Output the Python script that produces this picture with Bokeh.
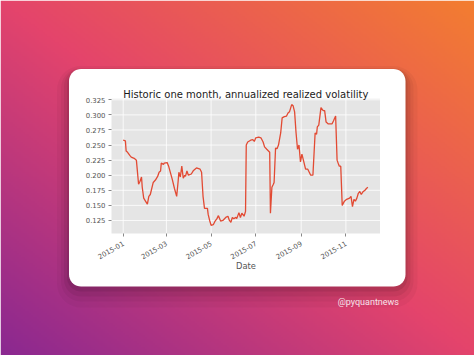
import numpy as np
import pandas as pd
from math import pi
from bokeh.plotting import figure
from bokeh.models import (DatetimeAxis, LinearAxis, FixedTicker, DatetimeTickFormatter,
                          PrintfTickFormatter, Label, Range1d)
from bokeh.embed import file_html
from bokeh.resources import INLINE

# ---------------- data ----------------
dates = [
    "2015-01-01", "2015-01-04", "2015-01-05", "2015-01-07", "2015-01-10", "2015-01-12", "2015-01-16", "2015-01-19", "2015-01-22", "2015-01-24",
    "2015-01-26", "2015-01-27", "2015-01-29", "2015-01-31", "2015-02-03", "2015-02-05", "2015-02-07", "2015-02-11", "2015-02-14", "2015-02-17",
    "2015-02-19", "2015-02-21", "2015-02-22", "2015-02-25", "2015-02-26", "2015-03-02", "2015-03-04", "2015-03-09", "2015-03-12", "2015-03-15",
    "2015-03-17", "2015-03-18", "2015-03-20", "2015-03-22", "2015-03-24", "2015-03-26", "2015-03-27", "2015-03-29", "2015-03-31", "2015-04-04",
    "2015-04-07", "2015-04-11", "2015-04-16", "2015-04-18", "2015-04-20", "2015-04-22", "2015-04-26", "2015-04-27", "2015-04-29", "2015-05-01",
    "2015-05-04", "2015-05-06", "2015-05-09", "2015-05-11", "2015-05-14", "2015-05-17", "2015-05-21", "2015-05-24", "2015-05-26", "2015-05-28",
    "2015-05-30", "2015-06-01", "2015-06-04", "2015-06-05", "2015-06-08", "2015-06-10", "2015-06-12", "2015-06-15", "2015-06-17", "2015-06-18",
    "2015-06-20", "2015-06-24", "2015-06-27", "2015-06-29", "2015-07-01", "2015-07-05", "2015-07-08", "2015-07-11", "2015-07-13", "2015-07-16",
    "2015-07-20", "2015-07-21", "2015-07-23", "2015-07-25", "2015-07-26", "2015-07-28", "2015-07-30", "2015-08-01", "2015-08-04", "2015-08-06",
    "2015-08-09", "2015-08-12", "2015-08-14", "2015-08-16", "2015-08-19", "2015-08-21", "2015-08-23", "2015-08-25", "2015-08-27", "2015-08-29",
    "2015-08-31", "2015-09-02", "2015-09-04", "2015-09-07", "2015-09-10", "2015-09-12", "2015-09-14", "2015-09-17", "2015-09-20", "2015-09-22",
    "2015-09-23", "2015-09-25", "2015-09-28", "2015-10-01", "2015-10-03", "2015-10-05", "2015-10-08", "2015-10-11", "2015-10-13", "2015-10-15",
    "2015-10-18", "2015-10-20", "2015-10-22", "2015-10-23", "2015-10-25", "2015-10-27", "2015-10-30", "2015-11-02", "2015-11-06", "2015-11-08",
    "2015-11-10", "2015-11-12", "2015-11-14", "2015-11-16", "2015-11-18", "2015-11-20", "2015-11-22", "2015-11-24", "2015-11-27", "2015-11-29",
    "2015-12-01",
]
volatility = [
    0.258, 0.257, 0.240, 0.238, 0.233, 0.230, 0.228, 0.225, 0.185, 0.190,
    0.197, 0.180, 0.162, 0.158, 0.152, 0.165, 0.168, 0.188, 0.192, 0.198,
    0.205, 0.207, 0.220, 0.218, 0.220, 0.221, 0.215, 0.193, 0.178, 0.165,
    0.190, 0.205, 0.197, 0.215, 0.195, 0.200, 0.198, 0.207, 0.200, 0.202,
    0.208, 0.212, 0.210, 0.205, 0.165, 0.145, 0.145, 0.135, 0.125, 0.117,
    0.118, 0.123, 0.128, 0.133, 0.124, 0.125, 0.130, 0.132, 0.125, 0.122,
    0.130, 0.128, 0.130, 0.128, 0.138, 0.130, 0.137, 0.132, 0.140, 0.250,
    0.255, 0.258, 0.259, 0.256, 0.262, 0.263, 0.262, 0.255, 0.247, 0.243,
    0.238, 0.137, 0.180, 0.185, 0.188, 0.245, 0.244, 0.250, 0.270, 0.295,
    0.297, 0.298, 0.303, 0.305, 0.317, 0.315, 0.305, 0.270, 0.243, 0.250,
    0.222, 0.235, 0.225, 0.210, 0.210, 0.205, 0.200, 0.200, 0.270, 0.268,
    0.280, 0.283, 0.312, 0.307, 0.307, 0.288, 0.285, 0.285, 0.285, 0.290,
    0.298, 0.225, 0.218, 0.215, 0.215, 0.150, 0.157, 0.160, 0.162, 0.165,
    0.148, 0.160, 0.157, 0.162, 0.170, 0.173, 0.168, 0.172, 0.175, 0.178,
    0.180,
]
x_tick_labels = ["2015-01", "2015-03", "2015-05", "2015-07", "2015-09", "2015-11"]
y_ticks = [0.125, 0.150, 0.175, 0.200, 0.225, 0.250, 0.275, 0.300, 0.325]
title_text = "Historic one month, annualized realized volatility"
x_label = "Date"
watermark_text = "@pyquantnews"

# ---------------- layout (pixels) ----------------
W, H = 474, 355
JAN1_PX, PX_PER_DAY = 122.7, 0.7325
Y325_PX, PX_PER_UNIT = 99.3, 603.3
DAY_MS = 86400000.0
base_ms = pd.Timestamp("2015-01-01").value / 1e6


def X(px):
    return base_ms + (px - JAN1_PX) / PX_PER_DAY * DAY_MS


def V(py):
    return 0.325 - (py - Y325_PX) / PX_PER_UNIT


PL, PR, PT, PB = 111.0, 379.5, 98.3, 233.0     # grey plotting area
CL, CR, CT, CB, CRAD = 68.5, 405.0, 68.5, 286.0, 12.0  # white card

p = figure(width=W, height=H, output_backend="svg", toolbar_location=None,
           x_axis_type=None, y_axis_type=None,
           x_range=Range1d(X(0), X(W)), y_range=Range1d(V(H), V(0)),
           min_border=0, outline_line_color=None,
           styles={"position": "absolute", "left": "0px", "top": "0px"})
p.title.text = ""

# ---- gradient background ----
gw, gh = 237, 178
u = (np.arange(gw) + 0.5) / gw
w = (np.arange(gh) + 0.5) / gh       # row 0 = bottom
t = (u[None, :] + w[:, None]) / 2.0
stop_pos = [0.0, 0.5, 1.0]
stop_rgb = [(138, 40, 145), (228, 68, 108), (243, 126, 48)]
img = np.empty((gh, gw), dtype=np.uint32)
view = img.view(dtype=np.uint8).reshape((gh, gw, 4))
for k in range(3):
    view[:, :, k] = np.interp(t, stop_pos, [c[k] for c in stop_rgb]).astype(np.uint8)
view[:, :, 3] = 255
p.image_rgba(image=[img], x=X(0), y=V(H), dw=X(W) - X(0), dh=V(0) - V(H))


def rrect(x0, y0, x1, y1, r, n=10):
    pts = []
    corners = [(x1 - r, y0 + r, -90, 0), (x1 - r, y1 - r, 0, 90),
               (x0 + r, y1 - r, 90, 180), (x0 + r, y0 + r, 180, 270)]
    for cx, cy, a0, a1 in corners:
        for a in np.linspace(np.radians(a0), np.radians(a1), n):
            pts.append((cx + r * np.cos(a), cy + r * np.sin(a)))
    xs = [X(px) for px, _ in pts]
    ys = [V(py) for _, py in pts]
    return xs, ys


# ---- card shadow + card ----
for grow, dy, a in [(12, 9, 0.035), (8, 7, 0.045), (5, 5, 0.06), (2, 3, 0.08)]:
    sx, sy = rrect(CL - grow, CT - grow + dy, CR + grow, CB + grow + dy, CRAD + grow)
    p.patch(sx, sy, fill_color="black", fill_alpha=a, line_color=None)
cx, cy = rrect(CL, CT, CR, CB, CRAD)
p.patch(cx, cy, fill_color="white", line_color=None)

# ---- grey panel and grid ----
p.quad(left=X(PL), right=X(PR), bottom=V(PB), top=V(PT), fill_color="#E5E5E5", line_color=None)
x_ticks_ms = [pd.Timestamp(s + "-01").value / 1e6 for s in x_tick_labels]
p.segment(x0=x_ticks_ms, x1=x_ticks_ms, y0=[V(PB)] * len(x_ticks_ms), y1=[V(PT)] * len(x_ticks_ms),
          line_color="white", line_width=0.8)
p.segment(x0=[X(PL)] * len(y_ticks), x1=[X(PR)] * len(y_ticks), y0=y_ticks, y1=y_ticks,
          line_color="white", line_width=0.8)

# ---- the series ----
p.line(x=pd.to_datetime(dates), y=volatility, line_color="#E24A33", line_width=1.3)

# ---- axes ----
def style_axis(ax):
    ax.axis_line_color = None
    ax.major_tick_line_color = "#555555"
    ax.major_tick_line_width = 0.7
    ax.major_tick_out = 3
    ax.major_tick_in = 0
    ax.minor_tick_line_color = None
    ax.major_label_text_font = "DejaVu Sans"
    ax.major_label_text_font_size = "6.9px"
    ax.major_label_text_color = "#555555"
    ax.major_label_standoff = 3


xaxis = DatetimeAxis(fixed_location=V(PB), bounds=(X(PL), X(PR)),
                     ticker=FixedTicker(ticks=x_ticks_ms),
                     formatter=DatetimeTickFormatter(days="%Y-%m", months="%Y-%m", years="%Y-%m"),
                     axis_label=x_label)
style_axis(xaxis)
xaxis.major_label_orientation = pi / 6
xaxis.major_label_standoff = 6
xaxis.axis_label_text_font = "DejaVu Sans"
xaxis.axis_label_text_font_size = "8.3px"
xaxis.axis_label_text_font_style = "normal"
xaxis.axis_label_text_color = "#555555"
xaxis.axis_label_standoff = -4
p.add_layout(xaxis, "below")

yaxis = LinearAxis(fixed_location=X(PL), bounds=(V(PB), V(PT)),
                   ticker=FixedTicker(ticks=y_ticks),
                   formatter=PrintfTickFormatter(format="%.3f"))
style_axis(yaxis)
p.add_layout(yaxis, "left")

# ---- texts ----
p.add_layout(Label(x=X((PL + PR) / 2), y=V(94.0), text=title_text, text_align="center",
                   text_baseline="alphabetic", text_font="DejaVu Sans", text_font_size="10px",
                   text_color="#1a1a1a"))
p.add_layout(Label(x=X(398.5), y=V(301.5), text=watermark_text, text_align="right",
                   text_baseline="alphabetic", text_font="Roboto", text_font_size="9px",
                   text_color="#f7e3ea"))

open("out.html", "w").write(file_html(p, INLINE))
